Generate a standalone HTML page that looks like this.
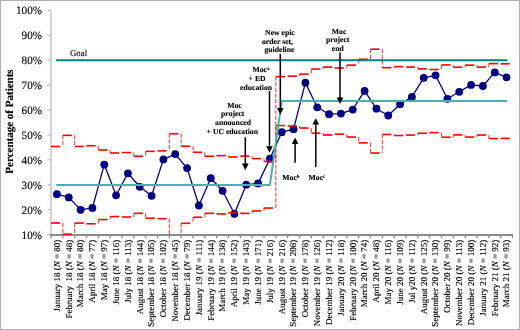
<!DOCTYPE html>
<html><head><meta charset="utf-8"><style>
html,body{margin:0;padding:0;background:#fff;}
body{width:520px;height:330px;overflow:hidden;}
svg{display:block;}
text{font-family:"Liberation Serif","Times New Roman",serif;text-rendering:geometricPrecision;stroke:#000;stroke-width:0.12px;paint-order:stroke;}
</style></head><body>
<svg width="520" height="330" viewBox="0 0 520 330">
<rect x="0.5" y="0.5" width="519" height="329" fill="#fff" stroke="#afafaf" stroke-width="1"/>

<line x1="51.00" y1="10.40" x2="51.00" y2="234.60" stroke="#d3d3d3" stroke-width="2"/>
<line x1="47.3" y1="234.60" x2="51.00" y2="234.60" stroke="#c4c4c4" stroke-width="1.3"/>
<text x="42.1" y="238.55" font-size="11.2" text-anchor="end" fill="#000">10%</text>
<line x1="47.3" y1="209.69" x2="51.00" y2="209.69" stroke="#c4c4c4" stroke-width="1.3"/>
<text x="42.1" y="213.64" font-size="11.2" text-anchor="end" fill="#000">20%</text>
<line x1="47.3" y1="184.78" x2="51.00" y2="184.78" stroke="#c4c4c4" stroke-width="1.3"/>
<text x="42.1" y="188.73" font-size="11.2" text-anchor="end" fill="#000">30%</text>
<line x1="47.3" y1="159.87" x2="51.00" y2="159.87" stroke="#c4c4c4" stroke-width="1.3"/>
<text x="42.1" y="163.82" font-size="11.2" text-anchor="end" fill="#000">40%</text>
<line x1="47.3" y1="134.96" x2="51.00" y2="134.96" stroke="#c4c4c4" stroke-width="1.3"/>
<text x="42.1" y="138.91" font-size="11.2" text-anchor="end" fill="#000">50%</text>
<line x1="47.3" y1="110.04" x2="51.00" y2="110.04" stroke="#c4c4c4" stroke-width="1.3"/>
<text x="42.1" y="113.99" font-size="11.2" text-anchor="end" fill="#000">60%</text>
<line x1="47.3" y1="85.13" x2="51.00" y2="85.13" stroke="#c4c4c4" stroke-width="1.3"/>
<text x="42.1" y="89.08" font-size="11.2" text-anchor="end" fill="#000">70%</text>
<line x1="47.3" y1="60.22" x2="51.00" y2="60.22" stroke="#c4c4c4" stroke-width="1.3"/>
<text x="42.1" y="64.17" font-size="11.2" text-anchor="end" fill="#000">80%</text>
<line x1="47.3" y1="35.31" x2="51.00" y2="35.31" stroke="#c4c4c4" stroke-width="1.3"/>
<text x="42.1" y="39.26" font-size="11.2" text-anchor="end" fill="#000">90%</text>
<line x1="47.3" y1="10.40" x2="51.00" y2="10.40" stroke="#c4c4c4" stroke-width="1.3"/>
<text x="42.1" y="14.35" font-size="11.2" text-anchor="end" fill="#000">100%</text>
<line x1="50.00" y1="235" x2="512.99" y2="235" stroke="#8c8c8c" stroke-width="2"/>
<line x1="51.00" y1="235" x2="51.00" y2="238.2" stroke="#8c8c8c" stroke-width="1.3"/>
<line x1="62.83" y1="235" x2="62.83" y2="238.2" stroke="#8c8c8c" stroke-width="1.3"/>
<line x1="74.67" y1="235" x2="74.67" y2="238.2" stroke="#8c8c8c" stroke-width="1.3"/>
<line x1="86.50" y1="235" x2="86.50" y2="238.2" stroke="#8c8c8c" stroke-width="1.3"/>
<line x1="98.33" y1="235" x2="98.33" y2="238.2" stroke="#8c8c8c" stroke-width="1.3"/>
<line x1="110.16" y1="235" x2="110.16" y2="238.2" stroke="#8c8c8c" stroke-width="1.3"/>
<line x1="122.00" y1="235" x2="122.00" y2="238.2" stroke="#8c8c8c" stroke-width="1.3"/>
<line x1="133.83" y1="235" x2="133.83" y2="238.2" stroke="#8c8c8c" stroke-width="1.3"/>
<line x1="145.66" y1="235" x2="145.66" y2="238.2" stroke="#8c8c8c" stroke-width="1.3"/>
<line x1="157.50" y1="235" x2="157.50" y2="238.2" stroke="#8c8c8c" stroke-width="1.3"/>
<line x1="169.33" y1="235" x2="169.33" y2="238.2" stroke="#8c8c8c" stroke-width="1.3"/>
<line x1="181.16" y1="235" x2="181.16" y2="238.2" stroke="#8c8c8c" stroke-width="1.3"/>
<line x1="193.00" y1="235" x2="193.00" y2="238.2" stroke="#8c8c8c" stroke-width="1.3"/>
<line x1="204.83" y1="235" x2="204.83" y2="238.2" stroke="#8c8c8c" stroke-width="1.3"/>
<line x1="216.66" y1="235" x2="216.66" y2="238.2" stroke="#8c8c8c" stroke-width="1.3"/>
<line x1="228.50" y1="235" x2="228.50" y2="238.2" stroke="#8c8c8c" stroke-width="1.3"/>
<line x1="240.33" y1="235" x2="240.33" y2="238.2" stroke="#8c8c8c" stroke-width="1.3"/>
<line x1="252.16" y1="235" x2="252.16" y2="238.2" stroke="#8c8c8c" stroke-width="1.3"/>
<line x1="263.99" y1="235" x2="263.99" y2="238.2" stroke="#8c8c8c" stroke-width="1.3"/>
<line x1="275.83" y1="235" x2="275.83" y2="238.2" stroke="#8c8c8c" stroke-width="1.3"/>
<line x1="287.66" y1="235" x2="287.66" y2="238.2" stroke="#8c8c8c" stroke-width="1.3"/>
<line x1="299.49" y1="235" x2="299.49" y2="238.2" stroke="#8c8c8c" stroke-width="1.3"/>
<line x1="311.33" y1="235" x2="311.33" y2="238.2" stroke="#8c8c8c" stroke-width="1.3"/>
<line x1="323.16" y1="235" x2="323.16" y2="238.2" stroke="#8c8c8c" stroke-width="1.3"/>
<line x1="334.99" y1="235" x2="334.99" y2="238.2" stroke="#8c8c8c" stroke-width="1.3"/>
<line x1="346.82" y1="235" x2="346.82" y2="238.2" stroke="#8c8c8c" stroke-width="1.3"/>
<line x1="358.66" y1="235" x2="358.66" y2="238.2" stroke="#8c8c8c" stroke-width="1.3"/>
<line x1="370.49" y1="235" x2="370.49" y2="238.2" stroke="#8c8c8c" stroke-width="1.3"/>
<line x1="382.32" y1="235" x2="382.32" y2="238.2" stroke="#8c8c8c" stroke-width="1.3"/>
<line x1="394.16" y1="235" x2="394.16" y2="238.2" stroke="#8c8c8c" stroke-width="1.3"/>
<line x1="405.99" y1="235" x2="405.99" y2="238.2" stroke="#8c8c8c" stroke-width="1.3"/>
<line x1="417.82" y1="235" x2="417.82" y2="238.2" stroke="#8c8c8c" stroke-width="1.3"/>
<line x1="429.66" y1="235" x2="429.66" y2="238.2" stroke="#8c8c8c" stroke-width="1.3"/>
<line x1="441.49" y1="235" x2="441.49" y2="238.2" stroke="#8c8c8c" stroke-width="1.3"/>
<line x1="453.32" y1="235" x2="453.32" y2="238.2" stroke="#8c8c8c" stroke-width="1.3"/>
<line x1="465.16" y1="235" x2="465.16" y2="238.2" stroke="#8c8c8c" stroke-width="1.3"/>
<line x1="476.99" y1="235" x2="476.99" y2="238.2" stroke="#8c8c8c" stroke-width="1.3"/>
<line x1="488.82" y1="235" x2="488.82" y2="238.2" stroke="#8c8c8c" stroke-width="1.3"/>
<line x1="500.65" y1="235" x2="500.65" y2="238.2" stroke="#8c8c8c" stroke-width="1.3"/>
<line x1="512.49" y1="235" x2="512.49" y2="238.2" stroke="#8c8c8c" stroke-width="1.3"/>
<text transform="translate(59.82,239.7) rotate(-90)" font-size="9" text-anchor="end" xml:space="preserve">January 18 (<tspan font-style="italic">N</tspan> = 80)</text>
<text transform="translate(71.65,239.7) rotate(-90)" font-size="9" text-anchor="end" xml:space="preserve">February  18 (<tspan font-style="italic">N</tspan> = 48)</text>
<text transform="translate(83.48,239.7) rotate(-90)" font-size="9" text-anchor="end" xml:space="preserve">March 18 (<tspan font-style="italic">N</tspan> = 80)</text>
<text transform="translate(95.32,239.7) rotate(-90)" font-size="9" text-anchor="end" xml:space="preserve">April 18 (<tspan font-style="italic">N</tspan> = 77)</text>
<text transform="translate(107.15,239.7) rotate(-90)" font-size="9" text-anchor="end" xml:space="preserve">May 18 (<tspan font-style="italic">N</tspan> = 97)</text>
<text transform="translate(118.98,239.7) rotate(-90)" font-size="9" text-anchor="end" xml:space="preserve">June 18 (<tspan font-style="italic">N</tspan> = 116)</text>
<text transform="translate(130.81,239.7) rotate(-90)" font-size="9" text-anchor="end" xml:space="preserve">July 18 (<tspan font-style="italic">N</tspan> = 113)</text>
<text transform="translate(142.65,239.7) rotate(-90)" font-size="9" text-anchor="end" xml:space="preserve">August 18 (<tspan font-style="italic">N</tspan> = 144)</text>
<text transform="translate(154.48,239.7) rotate(-90)" font-size="9" text-anchor="end" xml:space="preserve">September 18 (<tspan font-style="italic">N</tspan> = 105)</text>
<text transform="translate(166.31,239.7) rotate(-90)" font-size="9" text-anchor="end" xml:space="preserve">October 18 (<tspan font-style="italic">N</tspan> = 102)</text>
<text transform="translate(178.15,239.7) rotate(-90)" font-size="9" text-anchor="end" xml:space="preserve">November 18 (<tspan font-style="italic">N</tspan> = 45)</text>
<text transform="translate(189.98,239.7) rotate(-90)" font-size="9" text-anchor="end" xml:space="preserve">December 18 (<tspan font-style="italic">N</tspan> = 79)</text>
<text transform="translate(201.81,239.7) rotate(-90)" font-size="9" text-anchor="end" xml:space="preserve">January 19 (<tspan font-style="italic">N</tspan> = 111)</text>
<text transform="translate(213.65,239.7) rotate(-90)" font-size="9" text-anchor="end" xml:space="preserve">February 19 (<tspan font-style="italic">N</tspan> = 144)</text>
<text transform="translate(225.48,239.7) rotate(-90)" font-size="9" text-anchor="end" xml:space="preserve">March 19 (<tspan font-style="italic">N</tspan> = 138)</text>
<text transform="translate(237.31,239.7) rotate(-90)" font-size="9" text-anchor="end" xml:space="preserve">April 19 (<tspan font-style="italic">N</tspan> = 152)</text>
<text transform="translate(249.14,239.7) rotate(-90)" font-size="9" text-anchor="end" xml:space="preserve">May 19 (<tspan font-style="italic">N</tspan> = 143)</text>
<text transform="translate(260.98,239.7) rotate(-90)" font-size="9" text-anchor="end" xml:space="preserve">June 19 (<tspan font-style="italic">N</tspan> = 171)</text>
<text transform="translate(272.81,239.7) rotate(-90)" font-size="9" text-anchor="end" xml:space="preserve">July 19 (<tspan font-style="italic">N</tspan> = 216)</text>
<text transform="translate(284.64,239.7) rotate(-90)" font-size="9" text-anchor="end" xml:space="preserve">August 19 (<tspan font-style="italic">N</tspan> = 216)</text>
<text transform="translate(296.48,239.7) rotate(-90)" font-size="9" text-anchor="end" xml:space="preserve">September 19 (<tspan font-style="italic">N</tspan> = 208)</text>
<text transform="translate(308.31,239.7) rotate(-90)" font-size="9" text-anchor="end" xml:space="preserve">October 19 (<tspan font-style="italic">N</tspan> = 178)</text>
<text transform="translate(320.14,239.7) rotate(-90)" font-size="9" text-anchor="end" xml:space="preserve">November 19 (<tspan font-style="italic">N</tspan> = 126)</text>
<text transform="translate(331.98,239.7) rotate(-90)" font-size="9" text-anchor="end" xml:space="preserve">December 19 (<tspan font-style="italic">N</tspan> = 112)</text>
<text transform="translate(343.81,239.7) rotate(-90)" font-size="9" text-anchor="end" xml:space="preserve">January 20 (<tspan font-style="italic">N</tspan> = 118)</text>
<text transform="translate(355.64,239.7) rotate(-90)" font-size="9" text-anchor="end" xml:space="preserve">February 20 (<tspan font-style="italic">N</tspan> = 100)</text>
<text transform="translate(367.47,239.7) rotate(-90)" font-size="9" text-anchor="end" xml:space="preserve">March 20 (<tspan font-style="italic">N</tspan> = 74)</text>
<text transform="translate(379.31,239.7) rotate(-90)" font-size="9" text-anchor="end" xml:space="preserve">April 20 (<tspan font-style="italic">N</tspan> = 48)</text>
<text transform="translate(391.14,239.7) rotate(-90)" font-size="9" text-anchor="end" xml:space="preserve">May 20 (<tspan font-style="italic">N</tspan> = 116)</text>
<text transform="translate(402.97,239.7) rotate(-90)" font-size="9" text-anchor="end" xml:space="preserve">June 20 (<tspan font-style="italic">N</tspan> = 109)</text>
<text transform="translate(414.81,239.7) rotate(-90)" font-size="9" text-anchor="end" xml:space="preserve">Jul y20 (<tspan font-style="italic">N</tspan> = 112)</text>
<text transform="translate(426.64,239.7) rotate(-90)" font-size="9" text-anchor="end" xml:space="preserve">August 20 (<tspan font-style="italic">N</tspan> = 125)</text>
<text transform="translate(438.47,239.7) rotate(-90)" font-size="9" text-anchor="end" xml:space="preserve">September 20 (<tspan font-style="italic">N</tspan> = 130)</text>
<text transform="translate(450.31,239.7) rotate(-90)" font-size="9" text-anchor="end" xml:space="preserve">October 20 (<tspan font-style="italic">N</tspan> = 99)</text>
<text transform="translate(462.14,239.7) rotate(-90)" font-size="9" text-anchor="end" xml:space="preserve">November 20 (<tspan font-style="italic">N</tspan> = 113)</text>
<text transform="translate(473.97,239.7) rotate(-90)" font-size="9" text-anchor="end" xml:space="preserve">December 20 (<tspan font-style="italic">N</tspan> = 100)</text>
<text transform="translate(485.80,239.7) rotate(-90)" font-size="9" text-anchor="end" xml:space="preserve">January 21 (<tspan font-style="italic">N</tspan> = 112)</text>
<text transform="translate(497.64,239.7) rotate(-90)" font-size="9" text-anchor="end" xml:space="preserve">February 21 (<tspan font-style="italic">N</tspan> = 92)</text>
<text transform="translate(509.47,239.7) rotate(-90)" font-size="9" text-anchor="end" xml:space="preserve">March 21 (<tspan font-style="italic">N</tspan> = 93)</text>
<text transform="translate(12.7,121.5) rotate(-90)" font-size="11.0" font-weight="bold" text-anchor="middle">Percentage of Patients</text>
<path d="M56.92,194.20 L68.75,197.40 L80.58,209.80 L92.42,207.90 L104.25,164.60 L116.08,195.30 L127.91,173.30 L139.75,186.80 L151.58,195.80 L163.41,159.40 L175.25,154.10 L187.08,168.10 L198.91,205.50 L210.75,178.20 L222.58,190.80 L234.41,213.80 L246.24,184.70 L258.08,183.40 L269.91,158.70 L281.74,132.20 L293.58,129.20 L305.41,82.70 L317.24,107.30 L329.08,114.20 L340.91,113.60 L352.74,109.60 L364.57,90.90 L376.41,108.70 L388.24,115.50 L400.07,104.20 L411.91,96.90 L423.74,77.80 L435.57,75.30 L447.41,98.80 L459.24,91.80 L471.07,84.90 L482.90,86.00 L494.74,72.40 L506.57,77.30" fill="none" stroke="#000080" stroke-width="1.3" stroke-linejoin="round"/>
<circle cx="56.92" cy="194.20" r="3.9" fill="#000080"/>
<circle cx="68.75" cy="197.40" r="3.9" fill="#000080"/>
<circle cx="80.58" cy="209.80" r="3.9" fill="#000080"/>
<circle cx="92.42" cy="207.90" r="3.9" fill="#000080"/>
<circle cx="104.25" cy="164.60" r="3.9" fill="#000080"/>
<circle cx="116.08" cy="195.30" r="3.9" fill="#000080"/>
<circle cx="127.91" cy="173.30" r="3.9" fill="#000080"/>
<circle cx="139.75" cy="186.80" r="3.9" fill="#000080"/>
<circle cx="151.58" cy="195.80" r="3.9" fill="#000080"/>
<circle cx="163.41" cy="159.40" r="3.9" fill="#000080"/>
<circle cx="175.25" cy="154.10" r="3.9" fill="#000080"/>
<circle cx="187.08" cy="168.10" r="3.9" fill="#000080"/>
<circle cx="198.91" cy="205.50" r="3.9" fill="#000080"/>
<circle cx="210.75" cy="178.20" r="3.9" fill="#000080"/>
<circle cx="222.58" cy="190.80" r="3.9" fill="#000080"/>
<circle cx="234.41" cy="213.80" r="3.9" fill="#000080"/>
<circle cx="246.24" cy="184.70" r="3.9" fill="#000080"/>
<circle cx="258.08" cy="183.40" r="3.9" fill="#000080"/>
<circle cx="269.91" cy="158.70" r="3.9" fill="#000080"/>
<circle cx="281.74" cy="132.20" r="3.9" fill="#000080"/>
<circle cx="293.58" cy="129.20" r="3.9" fill="#000080"/>
<circle cx="305.41" cy="82.70" r="3.9" fill="#000080"/>
<circle cx="317.24" cy="107.30" r="3.9" fill="#000080"/>
<circle cx="329.08" cy="114.20" r="3.9" fill="#000080"/>
<circle cx="340.91" cy="113.60" r="3.9" fill="#000080"/>
<circle cx="352.74" cy="109.60" r="3.9" fill="#000080"/>
<circle cx="364.57" cy="90.90" r="3.9" fill="#000080"/>
<circle cx="376.41" cy="108.70" r="3.9" fill="#000080"/>
<circle cx="388.24" cy="115.50" r="3.9" fill="#000080"/>
<circle cx="400.07" cy="104.20" r="3.9" fill="#000080"/>
<circle cx="411.91" cy="96.90" r="3.9" fill="#000080"/>
<circle cx="423.74" cy="77.80" r="3.9" fill="#000080"/>
<circle cx="435.57" cy="75.30" r="3.9" fill="#000080"/>
<circle cx="447.41" cy="98.80" r="3.9" fill="#000080"/>
<circle cx="459.24" cy="91.80" r="3.9" fill="#000080"/>
<circle cx="471.07" cy="84.90" r="3.9" fill="#000080"/>
<circle cx="482.90" cy="86.00" r="3.9" fill="#000080"/>
<circle cx="494.74" cy="72.40" r="3.9" fill="#000080"/>
<circle cx="506.57" cy="77.30" r="3.9" fill="#000080"/>
<line x1="62.83" y1="135.35" x2="62.83" y2="146.49" stroke="#ff0000" stroke-opacity="0.75" stroke-width="1.1" stroke-dasharray="4.1 1.5"/>
<line x1="74.67" y1="135.35" x2="74.67" y2="146.49" stroke="#ff0000" stroke-opacity="0.75" stroke-width="1.1" stroke-dasharray="4.1 1.5"/>
<line x1="86.50" y1="145.75" x2="86.50" y2="146.49" stroke="#ff0000" stroke-opacity="0.75" stroke-width="1.1" stroke-dasharray="4.1 1.5"/>
<line x1="98.33" y1="145.75" x2="98.33" y2="150.01" stroke="#ff0000" stroke-opacity="0.75" stroke-width="1.1" stroke-dasharray="4.1 1.5"/>
<line x1="110.16" y1="150.01" x2="110.16" y2="152.98" stroke="#ff0000" stroke-opacity="0.75" stroke-width="1.1" stroke-dasharray="4.1 1.5"/>
<line x1="133.83" y1="152.56" x2="133.83" y2="156.24" stroke="#ff0000" stroke-opacity="0.75" stroke-width="1.1" stroke-dasharray="4.1 1.5"/>
<line x1="145.66" y1="151.36" x2="145.66" y2="156.24" stroke="#ff0000" stroke-opacity="0.75" stroke-width="1.1" stroke-dasharray="4.1 1.5"/>
<line x1="169.33" y1="133.73" x2="169.33" y2="150.87" stroke="#ff0000" stroke-opacity="0.75" stroke-width="1.1" stroke-dasharray="4.1 1.5"/>
<line x1="181.16" y1="133.73" x2="181.16" y2="146.25" stroke="#ff0000" stroke-opacity="0.75" stroke-width="1.1" stroke-dasharray="4.1 1.5"/>
<line x1="193.00" y1="146.25" x2="193.00" y2="152.27" stroke="#ff0000" stroke-opacity="0.75" stroke-width="1.1" stroke-dasharray="4.1 1.5"/>
<line x1="204.83" y1="152.27" x2="204.83" y2="156.24" stroke="#ff0000" stroke-opacity="0.75" stroke-width="1.1" stroke-dasharray="4.1 1.5"/>
<line x1="216.66" y1="155.62" x2="216.66" y2="156.24" stroke="#ff0000" stroke-opacity="0.75" stroke-width="1.1" stroke-dasharray="4.1 1.5"/>
<line x1="228.50" y1="155.62" x2="228.50" y2="157.00" stroke="#ff0000" stroke-opacity="0.75" stroke-width="1.1" stroke-dasharray="4.1 1.5"/>
<line x1="240.33" y1="156.14" x2="240.33" y2="157.00" stroke="#ff0000" stroke-opacity="0.75" stroke-width="1.1" stroke-dasharray="4.1 1.5"/>
<line x1="252.16" y1="156.14" x2="252.16" y2="158.59" stroke="#ff0000" stroke-opacity="0.75" stroke-width="1.1" stroke-dasharray="4.1 1.5"/>
<line x1="263.99" y1="158.59" x2="263.99" y2="161.48" stroke="#ff0000" stroke-opacity="0.75" stroke-width="1.1" stroke-dasharray="4.1 1.5"/>
<line x1="275.83" y1="76.61" x2="275.83" y2="161.48" stroke="#ff0000" stroke-opacity="0.75" stroke-width="1.1" stroke-dasharray="4.1 1.5"/>
<line x1="299.49" y1="74.12" x2="299.49" y2="76.14" stroke="#ff0000" stroke-opacity="0.75" stroke-width="1.1" stroke-dasharray="4.1 1.5"/>
<line x1="311.33" y1="69.04" x2="311.33" y2="74.12" stroke="#ff0000" stroke-opacity="0.75" stroke-width="1.1" stroke-dasharray="4.1 1.5"/>
<line x1="323.16" y1="67.10" x2="323.16" y2="69.04" stroke="#ff0000" stroke-opacity="0.75" stroke-width="1.1" stroke-dasharray="4.1 1.5"/>
<line x1="334.99" y1="67.10" x2="334.99" y2="67.97" stroke="#ff0000" stroke-opacity="0.75" stroke-width="1.1" stroke-dasharray="4.1 1.5"/>
<line x1="346.82" y1="65.12" x2="346.82" y2="67.97" stroke="#ff0000" stroke-opacity="0.75" stroke-width="1.1" stroke-dasharray="4.1 1.5"/>
<line x1="358.66" y1="59.28" x2="358.66" y2="65.12" stroke="#ff0000" stroke-opacity="0.75" stroke-width="1.1" stroke-dasharray="4.1 1.5"/>
<line x1="370.49" y1="49.18" x2="370.49" y2="59.28" stroke="#ff0000" stroke-opacity="0.75" stroke-width="1.1" stroke-dasharray="4.1 1.5"/>
<line x1="382.32" y1="49.18" x2="382.32" y2="67.69" stroke="#ff0000" stroke-opacity="0.75" stroke-width="1.1" stroke-dasharray="4.1 1.5"/>
<line x1="394.16" y1="66.64" x2="394.16" y2="67.69" stroke="#ff0000" stroke-opacity="0.75" stroke-width="1.1" stroke-dasharray="4.1 1.5"/>
<line x1="417.82" y1="67.10" x2="417.82" y2="68.91" stroke="#ff0000" stroke-opacity="0.75" stroke-width="1.1" stroke-dasharray="4.1 1.5"/>
<line x1="429.66" y1="68.91" x2="429.66" y2="69.54" stroke="#ff0000" stroke-opacity="0.75" stroke-width="1.1" stroke-dasharray="4.1 1.5"/>
<line x1="441.49" y1="64.94" x2="441.49" y2="69.54" stroke="#ff0000" stroke-opacity="0.75" stroke-width="1.1" stroke-dasharray="4.1 1.5"/>
<line x1="453.32" y1="64.94" x2="453.32" y2="67.25" stroke="#ff0000" stroke-opacity="0.75" stroke-width="1.1" stroke-dasharray="4.1 1.5"/>
<line x1="465.16" y1="65.12" x2="465.16" y2="67.25" stroke="#ff0000" stroke-opacity="0.75" stroke-width="1.1" stroke-dasharray="4.1 1.5"/>
<line x1="476.99" y1="65.12" x2="476.99" y2="67.10" stroke="#ff0000" stroke-opacity="0.75" stroke-width="1.1" stroke-dasharray="4.1 1.5"/>
<line x1="488.82" y1="63.59" x2="488.82" y2="67.10" stroke="#ff0000" stroke-opacity="0.75" stroke-width="1.1" stroke-dasharray="4.1 1.5"/>
<line x1="51.00" y1="146.49" x2="60.10" y2="146.49" stroke="#ff0000" stroke-width="1.6"/>
<line x1="62.83" y1="135.35" x2="71.93" y2="135.35" stroke="#ff0000" stroke-width="1.6"/>
<line x1="74.67" y1="146.49" x2="83.77" y2="146.49" stroke="#ff0000" stroke-width="1.6"/>
<line x1="86.50" y1="145.75" x2="95.60" y2="145.75" stroke="#ff0000" stroke-width="1.6"/>
<line x1="98.33" y1="150.01" x2="107.43" y2="150.01" stroke="#ff0000" stroke-width="1.6"/>
<line x1="110.16" y1="152.98" x2="119.26" y2="152.98" stroke="#ff0000" stroke-width="1.6"/>
<line x1="122.00" y1="152.56" x2="131.10" y2="152.56" stroke="#ff0000" stroke-width="1.6"/>
<line x1="133.83" y1="156.24" x2="142.93" y2="156.24" stroke="#ff0000" stroke-width="1.6"/>
<line x1="145.66" y1="151.36" x2="154.76" y2="151.36" stroke="#ff0000" stroke-width="1.6"/>
<line x1="157.50" y1="150.87" x2="166.60" y2="150.87" stroke="#ff0000" stroke-width="1.6"/>
<line x1="169.33" y1="133.73" x2="178.43" y2="133.73" stroke="#ff0000" stroke-width="1.6"/>
<line x1="181.16" y1="146.25" x2="190.26" y2="146.25" stroke="#ff0000" stroke-width="1.6"/>
<line x1="193.00" y1="152.27" x2="202.10" y2="152.27" stroke="#ff0000" stroke-width="1.6"/>
<line x1="204.83" y1="156.24" x2="213.93" y2="156.24" stroke="#ff0000" stroke-width="1.6"/>
<line x1="216.66" y1="155.62" x2="225.76" y2="155.62" stroke="#ff0000" stroke-width="1.6"/>
<line x1="228.50" y1="157.00" x2="237.59" y2="157.00" stroke="#ff0000" stroke-width="1.6"/>
<line x1="240.33" y1="156.14" x2="249.43" y2="156.14" stroke="#ff0000" stroke-width="1.6"/>
<line x1="252.16" y1="158.59" x2="261.26" y2="158.59" stroke="#ff0000" stroke-width="1.6"/>
<line x1="263.99" y1="161.48" x2="273.09" y2="161.48" stroke="#ff0000" stroke-width="1.6"/>
<line x1="275.83" y1="76.61" x2="284.93" y2="76.61" stroke="#ff0000" stroke-width="1.6"/>
<line x1="287.66" y1="76.14" x2="296.76" y2="76.14" stroke="#ff0000" stroke-width="1.6"/>
<line x1="299.49" y1="74.12" x2="308.59" y2="74.12" stroke="#ff0000" stroke-width="1.6"/>
<line x1="311.33" y1="69.04" x2="320.43" y2="69.04" stroke="#ff0000" stroke-width="1.6"/>
<line x1="323.16" y1="67.10" x2="332.26" y2="67.10" stroke="#ff0000" stroke-width="1.6"/>
<line x1="334.99" y1="67.97" x2="344.09" y2="67.97" stroke="#ff0000" stroke-width="1.6"/>
<line x1="346.82" y1="65.12" x2="355.93" y2="65.12" stroke="#ff0000" stroke-width="1.6"/>
<line x1="358.66" y1="59.28" x2="367.76" y2="59.28" stroke="#ff0000" stroke-width="1.6"/>
<line x1="370.49" y1="49.18" x2="379.59" y2="49.18" stroke="#ff0000" stroke-width="1.6"/>
<line x1="382.32" y1="67.69" x2="391.42" y2="67.69" stroke="#ff0000" stroke-width="1.6"/>
<line x1="394.16" y1="66.64" x2="403.26" y2="66.64" stroke="#ff0000" stroke-width="1.6"/>
<line x1="405.99" y1="67.10" x2="415.09" y2="67.10" stroke="#ff0000" stroke-width="1.6"/>
<line x1="417.82" y1="68.91" x2="426.92" y2="68.91" stroke="#ff0000" stroke-width="1.6"/>
<line x1="429.66" y1="69.54" x2="438.76" y2="69.54" stroke="#ff0000" stroke-width="1.6"/>
<line x1="441.49" y1="64.94" x2="450.59" y2="64.94" stroke="#ff0000" stroke-width="1.6"/>
<line x1="453.32" y1="67.25" x2="462.42" y2="67.25" stroke="#ff0000" stroke-width="1.6"/>
<line x1="465.16" y1="65.12" x2="474.26" y2="65.12" stroke="#ff0000" stroke-width="1.6"/>
<line x1="476.99" y1="67.10" x2="486.09" y2="67.10" stroke="#ff0000" stroke-width="1.6"/>
<line x1="488.82" y1="63.59" x2="497.92" y2="63.59" stroke="#ff0000" stroke-width="1.6"/>
<line x1="500.65" y1="63.79" x2="509.75" y2="63.79" stroke="#ff0000" stroke-width="1.6"/>
<line x1="62.83" y1="223.07" x2="62.83" y2="234.21" stroke="#ff0000" stroke-opacity="0.75" stroke-width="1.1" stroke-dasharray="4.1 1.5"/>
<line x1="74.67" y1="223.07" x2="74.67" y2="234.21" stroke="#ff0000" stroke-opacity="0.75" stroke-width="1.1" stroke-dasharray="4.1 1.5"/>
<line x1="86.50" y1="223.07" x2="86.50" y2="223.81" stroke="#ff0000" stroke-opacity="0.75" stroke-width="1.1" stroke-dasharray="4.1 1.5"/>
<line x1="98.33" y1="219.55" x2="98.33" y2="223.81" stroke="#ff0000" stroke-opacity="0.75" stroke-width="1.1" stroke-dasharray="4.1 1.5"/>
<line x1="110.16" y1="216.58" x2="110.16" y2="219.55" stroke="#ff0000" stroke-opacity="0.75" stroke-width="1.1" stroke-dasharray="4.1 1.5"/>
<line x1="133.83" y1="213.32" x2="133.83" y2="216.99" stroke="#ff0000" stroke-opacity="0.75" stroke-width="1.1" stroke-dasharray="4.1 1.5"/>
<line x1="145.66" y1="213.32" x2="145.66" y2="218.20" stroke="#ff0000" stroke-opacity="0.75" stroke-width="1.1" stroke-dasharray="4.1 1.5"/>
<line x1="169.33" y1="218.69" x2="169.33" y2="234.60" stroke="#ff0000" stroke-opacity="0.75" stroke-width="1.1" stroke-dasharray="4.1 1.5"/>
<line x1="181.16" y1="223.31" x2="181.16" y2="234.60" stroke="#ff0000" stroke-opacity="0.75" stroke-width="1.1" stroke-dasharray="4.1 1.5"/>
<line x1="193.00" y1="217.28" x2="193.00" y2="223.31" stroke="#ff0000" stroke-opacity="0.75" stroke-width="1.1" stroke-dasharray="4.1 1.5"/>
<line x1="204.83" y1="213.32" x2="204.83" y2="217.28" stroke="#ff0000" stroke-opacity="0.75" stroke-width="1.1" stroke-dasharray="4.1 1.5"/>
<line x1="216.66" y1="213.32" x2="216.66" y2="213.93" stroke="#ff0000" stroke-opacity="0.75" stroke-width="1.1" stroke-dasharray="4.1 1.5"/>
<line x1="228.50" y1="212.56" x2="228.50" y2="213.93" stroke="#ff0000" stroke-opacity="0.75" stroke-width="1.1" stroke-dasharray="4.1 1.5"/>
<line x1="240.33" y1="212.56" x2="240.33" y2="213.42" stroke="#ff0000" stroke-opacity="0.75" stroke-width="1.1" stroke-dasharray="4.1 1.5"/>
<line x1="252.16" y1="210.97" x2="252.16" y2="213.42" stroke="#ff0000" stroke-opacity="0.75" stroke-width="1.1" stroke-dasharray="4.1 1.5"/>
<line x1="263.99" y1="208.08" x2="263.99" y2="210.97" stroke="#ff0000" stroke-opacity="0.75" stroke-width="1.1" stroke-dasharray="4.1 1.5"/>
<line x1="275.83" y1="125.54" x2="275.83" y2="208.08" stroke="#ff0000" stroke-opacity="0.75" stroke-width="1.1" stroke-dasharray="4.1 1.5"/>
<line x1="299.49" y1="126.01" x2="299.49" y2="128.03" stroke="#ff0000" stroke-opacity="0.75" stroke-width="1.1" stroke-dasharray="4.1 1.5"/>
<line x1="311.33" y1="128.03" x2="311.33" y2="133.11" stroke="#ff0000" stroke-opacity="0.75" stroke-width="1.1" stroke-dasharray="4.1 1.5"/>
<line x1="323.16" y1="133.11" x2="323.16" y2="135.05" stroke="#ff0000" stroke-opacity="0.75" stroke-width="1.1" stroke-dasharray="4.1 1.5"/>
<line x1="334.99" y1="134.18" x2="334.99" y2="135.05" stroke="#ff0000" stroke-opacity="0.75" stroke-width="1.1" stroke-dasharray="4.1 1.5"/>
<line x1="346.82" y1="134.18" x2="346.82" y2="137.03" stroke="#ff0000" stroke-opacity="0.75" stroke-width="1.1" stroke-dasharray="4.1 1.5"/>
<line x1="358.66" y1="137.03" x2="358.66" y2="142.88" stroke="#ff0000" stroke-opacity="0.75" stroke-width="1.1" stroke-dasharray="4.1 1.5"/>
<line x1="370.49" y1="142.88" x2="370.49" y2="152.98" stroke="#ff0000" stroke-opacity="0.75" stroke-width="1.1" stroke-dasharray="4.1 1.5"/>
<line x1="382.32" y1="134.46" x2="382.32" y2="152.98" stroke="#ff0000" stroke-opacity="0.75" stroke-width="1.1" stroke-dasharray="4.1 1.5"/>
<line x1="394.16" y1="134.46" x2="394.16" y2="135.52" stroke="#ff0000" stroke-opacity="0.75" stroke-width="1.1" stroke-dasharray="4.1 1.5"/>
<line x1="417.82" y1="133.24" x2="417.82" y2="135.05" stroke="#ff0000" stroke-opacity="0.75" stroke-width="1.1" stroke-dasharray="4.1 1.5"/>
<line x1="429.66" y1="132.61" x2="429.66" y2="133.24" stroke="#ff0000" stroke-opacity="0.75" stroke-width="1.1" stroke-dasharray="4.1 1.5"/>
<line x1="441.49" y1="132.61" x2="441.49" y2="137.22" stroke="#ff0000" stroke-opacity="0.75" stroke-width="1.1" stroke-dasharray="4.1 1.5"/>
<line x1="453.32" y1="134.90" x2="453.32" y2="137.22" stroke="#ff0000" stroke-opacity="0.75" stroke-width="1.1" stroke-dasharray="4.1 1.5"/>
<line x1="465.16" y1="134.90" x2="465.16" y2="137.03" stroke="#ff0000" stroke-opacity="0.75" stroke-width="1.1" stroke-dasharray="4.1 1.5"/>
<line x1="476.99" y1="135.05" x2="476.99" y2="137.03" stroke="#ff0000" stroke-opacity="0.75" stroke-width="1.1" stroke-dasharray="4.1 1.5"/>
<line x1="488.82" y1="135.05" x2="488.82" y2="138.57" stroke="#ff0000" stroke-opacity="0.75" stroke-width="1.1" stroke-dasharray="4.1 1.5"/>
<line x1="51.00" y1="223.07" x2="60.10" y2="223.07" stroke="#ff0000" stroke-width="1.6"/>
<line x1="62.83" y1="234.21" x2="71.93" y2="234.21" stroke="#ff0000" stroke-width="1.6"/>
<line x1="74.67" y1="223.07" x2="83.77" y2="223.07" stroke="#ff0000" stroke-width="1.6"/>
<line x1="86.50" y1="223.81" x2="95.60" y2="223.81" stroke="#ff0000" stroke-width="1.6"/>
<line x1="98.33" y1="219.55" x2="107.43" y2="219.55" stroke="#ff0000" stroke-width="1.6"/>
<line x1="110.16" y1="216.58" x2="119.26" y2="216.58" stroke="#ff0000" stroke-width="1.6"/>
<line x1="122.00" y1="216.99" x2="131.10" y2="216.99" stroke="#ff0000" stroke-width="1.6"/>
<line x1="133.83" y1="213.32" x2="142.93" y2="213.32" stroke="#ff0000" stroke-width="1.6"/>
<line x1="145.66" y1="218.20" x2="154.76" y2="218.20" stroke="#ff0000" stroke-width="1.6"/>
<line x1="157.50" y1="218.69" x2="166.60" y2="218.69" stroke="#ff0000" stroke-width="1.6"/>
<line x1="181.16" y1="223.31" x2="190.26" y2="223.31" stroke="#ff0000" stroke-width="1.6"/>
<line x1="193.00" y1="217.28" x2="202.10" y2="217.28" stroke="#ff0000" stroke-width="1.6"/>
<line x1="204.83" y1="213.32" x2="213.93" y2="213.32" stroke="#ff0000" stroke-width="1.6"/>
<line x1="216.66" y1="213.93" x2="225.76" y2="213.93" stroke="#ff0000" stroke-width="1.6"/>
<line x1="228.50" y1="212.56" x2="237.59" y2="212.56" stroke="#ff0000" stroke-width="1.6"/>
<line x1="240.33" y1="213.42" x2="249.43" y2="213.42" stroke="#ff0000" stroke-width="1.6"/>
<line x1="252.16" y1="210.97" x2="261.26" y2="210.97" stroke="#ff0000" stroke-width="1.6"/>
<line x1="263.99" y1="208.08" x2="273.09" y2="208.08" stroke="#ff0000" stroke-width="1.6"/>
<line x1="275.83" y1="125.54" x2="284.93" y2="125.54" stroke="#ff0000" stroke-width="1.6"/>
<line x1="287.66" y1="126.01" x2="296.76" y2="126.01" stroke="#ff0000" stroke-width="1.6"/>
<line x1="299.49" y1="128.03" x2="308.59" y2="128.03" stroke="#ff0000" stroke-width="1.6"/>
<line x1="311.33" y1="133.11" x2="320.43" y2="133.11" stroke="#ff0000" stroke-width="1.6"/>
<line x1="323.16" y1="135.05" x2="332.26" y2="135.05" stroke="#ff0000" stroke-width="1.6"/>
<line x1="334.99" y1="134.18" x2="344.09" y2="134.18" stroke="#ff0000" stroke-width="1.6"/>
<line x1="346.82" y1="137.03" x2="355.93" y2="137.03" stroke="#ff0000" stroke-width="1.6"/>
<line x1="358.66" y1="142.88" x2="367.76" y2="142.88" stroke="#ff0000" stroke-width="1.6"/>
<line x1="370.49" y1="152.98" x2="379.59" y2="152.98" stroke="#ff0000" stroke-width="1.6"/>
<line x1="382.32" y1="134.46" x2="391.42" y2="134.46" stroke="#ff0000" stroke-width="1.6"/>
<line x1="394.16" y1="135.52" x2="403.26" y2="135.52" stroke="#ff0000" stroke-width="1.6"/>
<line x1="405.99" y1="135.05" x2="415.09" y2="135.05" stroke="#ff0000" stroke-width="1.6"/>
<line x1="417.82" y1="133.24" x2="426.92" y2="133.24" stroke="#ff0000" stroke-width="1.6"/>
<line x1="429.66" y1="132.61" x2="438.76" y2="132.61" stroke="#ff0000" stroke-width="1.6"/>
<line x1="441.49" y1="137.22" x2="450.59" y2="137.22" stroke="#ff0000" stroke-width="1.6"/>
<line x1="453.32" y1="134.90" x2="462.42" y2="134.90" stroke="#ff0000" stroke-width="1.6"/>
<line x1="465.16" y1="137.03" x2="474.26" y2="137.03" stroke="#ff0000" stroke-width="1.6"/>
<line x1="476.99" y1="135.05" x2="486.09" y2="135.05" stroke="#ff0000" stroke-width="1.6"/>
<line x1="488.82" y1="138.57" x2="497.92" y2="138.57" stroke="#ff0000" stroke-width="1.6"/>
<line x1="500.65" y1="138.36" x2="509.75" y2="138.36" stroke="#ff0000" stroke-width="1.6"/>
<line x1="56.92" y1="60.22" x2="506.57" y2="60.22" stroke="#008080" stroke-width="2" stroke-linecap="round"/>
<text x="70" y="55.9" font-size="8.8">Goal</text>
<path d="M56.92,184.98 L269.91,184.98 L281.74,101.08 L506.57,101.08" fill="none" stroke="#3fb4b0" stroke-width="2" stroke-linecap="round" stroke-linejoin="round"/>
<text x="227.20" y="107.50" font-size="7.7" font-weight="bold" stroke-width="0.05" xml:space="preserve">Moc</text>
<text x="221.10" y="116.30" font-size="7.7" font-weight="bold" stroke-width="0.05" xml:space="preserve">project</text>
<text x="215.10" y="125.10" font-size="7.7" font-weight="bold" stroke-width="0.05" xml:space="preserve">announced</text>
<text x="206.60" y="133.90" font-size="7.7" font-weight="bold" stroke-width="0.05" xml:space="preserve">+ UC education</text>
<line x1="245.3" y1="137.2" x2="245.3" y2="164.1" stroke="#000" stroke-width="1.5"/><path d="M242.0,163.6 L248.60000000000002,163.6 L245.3,170.2 Z" fill="#000"/>
<text x="252.40" y="71.80" font-size="7.7" font-weight="bold" stroke-width="0.05" xml:space="preserve">Moc<tspan font-size="5" dy="-2.1">a</tspan></text>
<text x="248.60" y="80.70" font-size="7.7" font-weight="bold" stroke-width="0.05" xml:space="preserve">+ ED</text>
<text x="240.10" y="89.60" font-size="7.7" font-weight="bold" stroke-width="0.05" xml:space="preserve">education</text>
<line x1="269.5" y1="90.8" x2="269.5" y2="146.7" stroke="#000" stroke-width="1.5"/><path d="M266.2,146.2 L272.8,146.2 L269.5,152.79999999999998 Z" fill="#000"/>
<text x="265.10" y="34.90" font-size="7.7" font-weight="bold" stroke-width="0.05" xml:space="preserve">New epic</text>
<text x="262.00" y="43.60" font-size="7.7" font-weight="bold" stroke-width="0.05" xml:space="preserve">order set,</text>
<text x="264.50" y="52.30" font-size="7.7" font-weight="bold" stroke-width="0.05" xml:space="preserve">guideline</text>
<line x1="280.3" y1="54.0" x2="280.3" y2="108.4" stroke="#000" stroke-width="1.5"/><path d="M277.0,107.9 L283.6,107.9 L280.3,114.5 Z" fill="#000"/>
<text x="331.80" y="33.60" font-size="7.7" font-weight="bold" stroke-width="0.05" xml:space="preserve">Moc</text>
<text x="326.10" y="42.35" font-size="7.7" font-weight="bold" stroke-width="0.05" xml:space="preserve">project</text>
<text x="331.80" y="51.10" font-size="7.7" font-weight="bold" stroke-width="0.05" xml:space="preserve">end</text>
<line x1="340.0" y1="52.5" x2="340.0" y2="98.0" stroke="#000" stroke-width="1.5"/><path d="M336.7,97.5 L343.3,97.5 L340.0,104.1 Z" fill="#000"/>
<text x="282.30" y="179.60" font-size="7.7" font-weight="bold" stroke-width="0.05" xml:space="preserve">Moc<tspan font-size="5" dy="-2.1">b</tspan></text>
<line x1="295.1" y1="162.7" x2="295.1" y2="143.5" stroke="#000" stroke-width="1.5"/><path d="M291.8,144.0 L298.40000000000003,144.0 L295.1,137.6 Z" fill="#000"/>
<text x="308.60" y="179.60" font-size="7.7" font-weight="bold" stroke-width="0.05" xml:space="preserve">Moc<tspan font-size="5" dy="-2.1">c</tspan></text>
<line x1="315.8" y1="167.0" x2="315.8" y2="124.10000000000001" stroke="#000" stroke-width="1.5"/><path d="M312.5,124.60000000000001 L319.1,124.60000000000001 L315.8,118.2 Z" fill="#000"/>
</svg>
</body></html>
